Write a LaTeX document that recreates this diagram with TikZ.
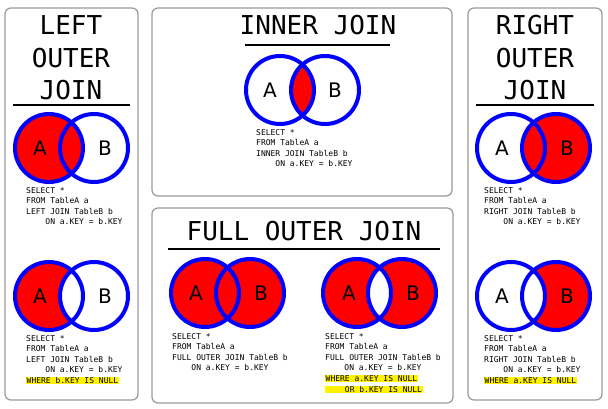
\documentclass[tikz,border=0pt]{standalone}
\usepackage{fontspec}
\setmonofont{DejaVu Sans Mono}
\setsansfont{DejaVu Sans}
\begin{document}
\begin{tikzpicture}[x=1pt,y=-1pt,
  panel/.style={draw=gray!80,line width=1.2pt,rounded corners=6pt},
  ttl/.style={font=\ttfamily\fontsize{26}{32.5}\selectfont,align=center,inner sep=0},
  rl/.style={line width=1.5pt},
  code/.style={font=\ttfamily\fontsize{8}{10.5}\selectfont,align=left,anchor=north west,inner sep=0},
  hl/.style={fill=yellow,font=\ttfamily\fontsize{8}{10.5}\selectfont,anchor=north west,inner sep=0.5pt},
  lab/.style={font=\sffamily\fontsize{20}{22}\selectfont},
  ring/.style={circle,draw=blue,line width=4pt,minimum size=68pt,inner sep=0}]
\useasboundingbox (0,0) rectangle (608,409);
\def\R{34}
\newcommand\vennfill[3]{%
  \ifnum#3=1 \fill[red] (#1,#2) circle (\R);\fi
  \ifnum#3=2 \fill[red] (#1,#2) circle (\R); \begin{scope}\clip (#1,#2) circle (\R); \fill[white] (#1+45,#2) circle (\R);\end{scope}\fi
  \ifnum#3=3 \begin{scope}\clip (#1,#2) circle (\R); \fill[red] (#1+45,#2) circle (\R);\end{scope}\fi
  \ifnum#3=4 \fill[red] (#1,#2) circle (\R); \fill[red] (#1+45,#2) circle (\R);\fi
  \ifnum#3=5 \fill[red] (#1,#2) circle (\R); \fill[red] (#1+45,#2) circle (\R); \begin{scope}\clip (#1,#2) circle (\R); \fill[white] (#1+45,#2) circle (\R);\end{scope}\fi
  \ifnum#3=6 \fill[red] (#1+45,#2) circle (\R);\fi
  \ifnum#3=7 \fill[red] (#1+45,#2) circle (\R); \begin{scope}\clip (#1+45,#2) circle (\R); \fill[white] (#1,#2) circle (\R);\end{scope}\fi
}
% panels
\draw[panel] (5,8) rectangle (138,400);
\draw[panel] (152,8) rectangle (452,196);
\draw[panel] (152,208) rectangle (453,403);
\draw[panel] (468,8) rectangle (602,400);
% titles
\node[ttl] (t1) at (71,58) {LEFT\\OUTER\\JOIN};
\draw[rl] (13,105) -- (130,105);
\node[ttl] (t2) at (318,25) {INNER JOIN};
\draw[rl] (245,45) -- (390,45);
\node[ttl] (t3) at (304,231) {FULL OUTER JOIN};
\draw[rl] (168,249) -- (440,249);
\node[ttl] (t4) at (535,58) {RIGHT\\OUTER\\JOIN};
\draw[rl] (476,105) -- (594,105);
% left 1
\vennfill{49}{148}{1}
\node[ring] (a1) at (49,148) {}; \node[ring] (b1) at (94,148) {};
\node[lab] at (40,148) {A}; \node[lab] at (105,148) {B};
\node[code] (c1) at (26,187) {SELECT *\\FROM TableA a\\LEFT JOIN TableB b\\\hspace*{4\fontcharwd\font`a}ON a.KEY = b.KEY};
% left 2
\vennfill{49}{296}{2}
\node[ring] (a2) at (49,296) {}; \node[ring] (b2) at (94,296) {};
\node[lab] at (40,296) {A}; \node[lab] at (105,296) {B};
\node[code] (c2) at (26,335) {SELECT *\\FROM TableA a\\LEFT JOIN TableB b\\\hspace*{4\fontcharwd\font`a}ON a.KEY = b.KEY};
\node[hl] (h2) at (26,377) {WHERE b.KEY IS NULL};
% inner
\vennfill{280}{90}{3}
\node[ring] (a3) at (280,90) {}; \node[ring] (b3) at (325,90) {};
\node[lab] at (270,90) {A}; \node[lab] at (335,90) {B};
\node[code] (c3) at (256,129) {SELECT *\\FROM TableA a\\INNER JOIN TableB b\\\hspace*{4\fontcharwd\font`a}ON a.KEY = b.KEY};
% full 1
\vennfill{205}{293}{4}
\node[ring] (a4) at (205,293) {}; \node[ring] (b4) at (250,293) {};
\node[lab] at (196,293) {A}; \node[lab] at (261,293) {B};
\node[code] (c4) at (172,333) {SELECT *\\FROM TableA a\\FULL OUTER JOIN TableB b\\\hspace*{4\fontcharwd\font`a}ON a.KEY = b.KEY};
% full 2
\vennfill{357}{293}{5}
\node[ring] (a5) at (357,293) {}; \node[ring] (b5) at (402,293) {};
\node[lab] at (349,293) {A}; \node[lab] at (413,293) {B};
\node[code] (c5) at (325,333) {SELECT *\\FROM TableA a\\FULL OUTER JOIN TableB b\\\hspace*{4\fontcharwd\font`a}ON a.KEY = b.KEY};
\node[hl] (h5) at (325,375) {WHERE a.KEY IS NULL};
\node[hl] (h5b) at (325,385.5) {\hspace*{4\fontcharwd\font`a}OR b.KEY IS NULL};
% right 1
\vennfill{511}{148}{6}
\node[ring] (a6) at (511,148) {}; \node[ring] (b6) at (556,148) {};
\node[lab] at (502,148) {A}; \node[lab] at (567,148) {B};
\node[code] (c6) at (484,187) {SELECT *\\FROM TableA a\\RIGHT JOIN TableB b\\\hspace*{4\fontcharwd\font`a}ON a.KEY = b.KEY};
% right 2
\vennfill{511}{296}{7}
\node[ring] (a7) at (511,296) {}; \node[ring] (b7) at (556,296) {};
\node[lab] at (502,296) {A}; \node[lab] at (567,296) {B};
\node[code] (c7) at (484,335) {SELECT *\\FROM TableA a\\RIGHT JOIN TableB b\\\hspace*{4\fontcharwd\font`a}ON a.KEY = b.KEY};
\node[hl] (h7) at (484,377) {WHERE a.KEY IS NULL};
\end{tikzpicture}
\end{document}
